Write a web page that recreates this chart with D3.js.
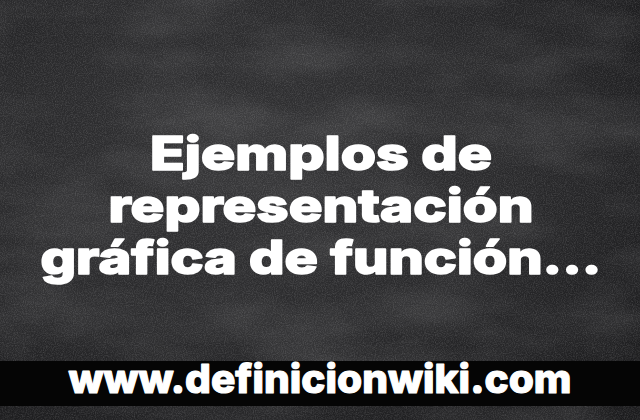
<!DOCTYPE html>
<html>
<head>
<meta charset="utf-8">
<script src="https://cdn.jsdelivr.net/npm/d3@7"></script>
<style>
  html, body { margin: 0; padding: 0; background: #2a2a2c; }
  svg { display: block; }
</style>
</head>
<body>
<svg></svg>
<script>
var width = 640;
var height = 420;

// text content
var titleLines = ["Ejemplos de", "representación", "gráfica de función..."];
var titleWidths = [342, 425, 561];
var footerText = "www.definicionwiki.com";

var svg = d3.select("svg")
    .attr("width", width)
    .attr("height", height);

var defs = svg.append("defs");

// chalkboard glow
var glow = defs.append("radialGradient")
    .attr("id", "glow")
    .attr("cx", "40%").attr("cy", "40%").attr("r", "75%");
glow.append("stop").attr("offset", "0%").attr("stop-color", "#333335");
glow.append("stop").attr("offset", "55%").attr("stop-color", "#2a2a2c");
glow.append("stop").attr("offset", "100%").attr("stop-color", "#1c1c1e");

// chalk dust noise
var noise = defs.append("filter")
    .attr("id", "noise")
    .attr("x", 0).attr("y", 0).attr("width", "100%").attr("height", "100%");
noise.append("feTurbulence")
    .attr("type", "fractalNoise")
    .attr("baseFrequency", "0.9")
    .attr("numOctaves", 3)
    .attr("seed", 4);
noise.append("feColorMatrix")
    .attr("type", "matrix")
    .attr("values", "0 0 0 0 1  0 0 0 0 1  0 0 0 0 1  0 0 0 1.2 -0.45");

var smudge = defs.append("filter")
    .attr("id", "smudge")
    .attr("x", 0).attr("y", 0).attr("width", "100%").attr("height", "100%");
smudge.append("feTurbulence")
    .attr("type", "fractalNoise")
    .attr("baseFrequency", "0.008 0.02")
    .attr("numOctaves", 4)
    .attr("seed", 11);
smudge.append("feColorMatrix")
    .attr("type", "matrix")
    .attr("values", "0 0 0 0 1  0 0 0 0 1  0 0 0 0 1  0 0 0 0.8 -0.3");

svg.append("rect")
    .attr("width", width).attr("height", height)
    .attr("fill", "url(#glow)");
svg.append("rect")
    .attr("width", width).attr("height", height)
    .attr("filter", "url(#smudge)")
    .attr("opacity", 0.22);
svg.append("rect")
    .attr("width", width).attr("height", height)
    .attr("filter", "url(#noise)")
    .attr("opacity", 0.22);

// title lines placed on a point scale
var yTitle = d3.scalePoint()
    .domain(d3.range(titleLines.length))
    .range([170, 274]);

svg.append("g")
    .selectAll("text")
    .data(titleLines)
    .enter()
    .append("text")
        .attr("x", width / 2 + 1)
        .attr("y", (d, i) => yTitle(i))
        .attr("text-anchor", "middle")
        .attr("font-family", "Inter, 'Open Sans', Lato, sans-serif")
        .attr("font-weight", 800)
        .attr("font-size", 46)
        .attr("fill", "#ffffff")
        .attr("stroke", "#ffffff")
        .attr("stroke-width", 1.6)
        .attr("stroke-linejoin", "round")
        .attr("textLength", (d, i) => titleWidths[i])
        .attr("lengthAdjust", "spacingAndGlyphs")
        .text(d => d);

// footer band
svg.append("rect")
    .attr("x", 0).attr("y", 361)
    .attr("width", width).attr("height", 45)
    .attr("fill", "#050505");

svg.append("text")
    .attr("x", width / 2)
    .attr("y", 393)
    .attr("text-anchor", "middle")
    .attr("font-family", "Inter, 'Open Sans', Lato, sans-serif")
    .attr("font-weight", 800)
    .attr("font-size", 40)
    .attr("fill", "#ffffff")
    .attr("stroke", "#ffffff")
    .attr("stroke-width", 1.2)
    .attr("stroke-linejoin", "round")
    .attr("textLength", 503)
    .attr("lengthAdjust", "spacingAndGlyphs")
    .text(footerText);
</script>
</body>
</html>
